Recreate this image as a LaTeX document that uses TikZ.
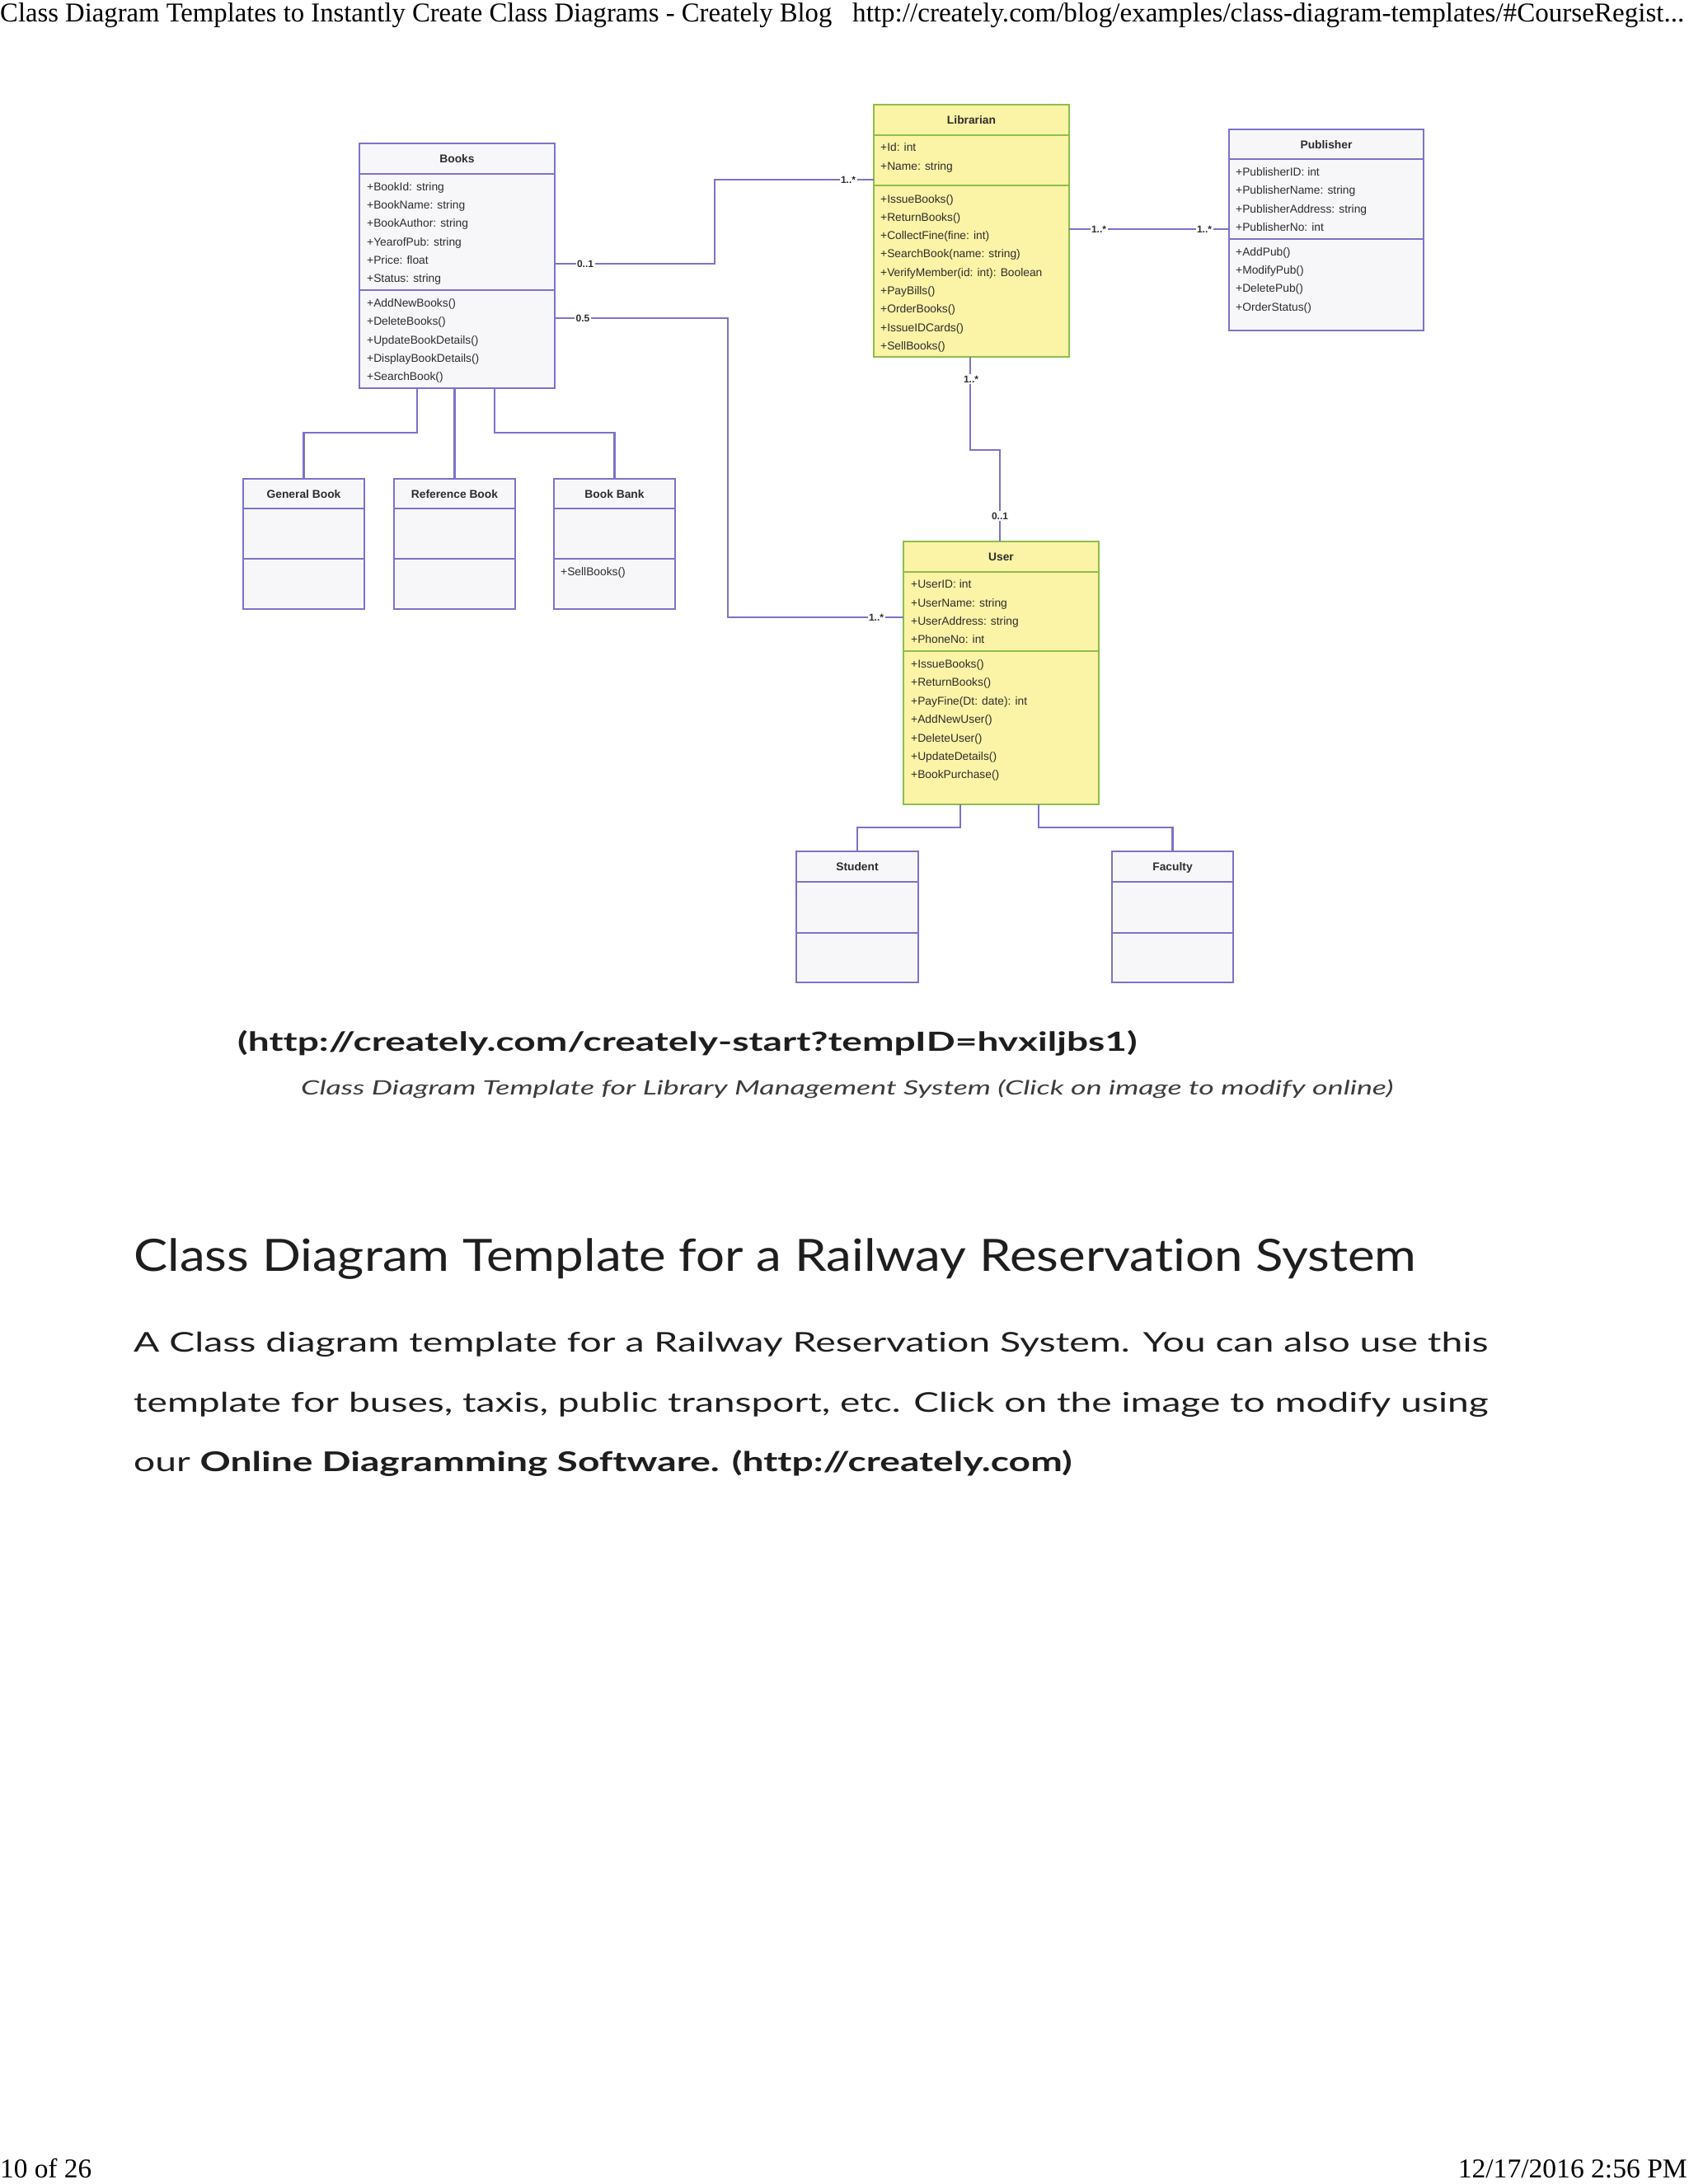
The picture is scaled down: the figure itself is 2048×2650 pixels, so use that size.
\documentclass[tikz,border=0pt]{standalone}
\usepackage{fontspec}
\usepackage{graphicx}
\setmainfont{Liberation Sans}
\newfontfamily\seriffont{Liberation Serif}
\newfontfamily\blogfont[Ligatures=NoCommon]{Lato}
\definecolor{umlpurple}{RGB}{124,115,200}
\definecolor{umlgreen}{RGB}{141,190,74}
\definecolor{umlyellow}{RGB}{251,243,166}
\definecolor{umlgray}{RGB}{247,247,250}
\definecolor{umltext}{RGB}{45,45,45}
\definecolor{blogtext}{RGB}{30,30,30}
\definecolor{captext}{RGB}{60,60,60}

\newcommand\classbox[9]{%
  \node[#2, minimum width={#5-#3}, minimum height={#6-#4}] (#1) at ({(#3+#5)/2},{(#4+#6)/2}) {};
  \draw[#2sep] (#1.west |- 0,#7) -- (#1.east |- 0,#7);
  \draw[#2sep] (#1.west |- 0,#8) -- (#1.east |- 0,#8);
  \node[ttl] (#1-title) at ({(#3+#5)/2},{(#4+#7)/2+5}) {#9};
}
\newcommand\classrows[5]{%
  \foreach \t [count=\i] in {#5} {\node[attr] (#1\i) at (#2,{#3+(\i-1)*#4+5}) {\t};}
}

\begin{document}
\begin{tikzpicture}[x=1pt,y=-1pt,
  cls/.style={draw=umlpurple, fill=umlgray, line width=2.6pt, inner sep=0pt, outer sep=0pt, rectangle},
  ycls/.style={draw=umlgreen, fill=umlyellow, line width=2.6pt, inner sep=0pt, outer sep=0pt, rectangle},
  clssep/.style={draw=umlpurple, line width=2.6pt},
  yclssep/.style={draw=umlgreen, line width=2.6pt},
  conn/.style={draw=umlpurple, line width=2.6pt},
  attr/.style={anchor=base west, inner sep=0pt, text=umltext, font=\fontsize{13.8}{14}\selectfont},
  ttl/.style={anchor=base, inner sep=0pt, text=umltext, font=\fontsize{13.8}{14}\selectfont\bfseries},
  mult/.style={fill=white, inner sep=1.5pt, text=umltext, font=\fontsize{12}{12}\selectfont\bfseries},
  hdr/.style={inner sep=0pt, text=black, font=\seriffont\fontsize{33}{36}\selectfont},
  blog/.style={anchor=base west, inner sep=0pt, text=blogtext, font=\blogfont\fontsize{33}{36}\selectfont}
]
\fill[white] (0,0) rectangle (2048,2650);
\useasboundingbox (0,0) rectangle (2048,2650);

% header and footer
\node[hdr, anchor=base west] (hleft) at (0,27) {\resizebox{1009pt}{\height}{Class Diagram Templates to Instantly Create Class Diagrams - Creately Blog}};
\node[hdr, anchor=base west] (hright) at (1034,27) {\resizebox{1009pt}{\height}{http://creately.com/blog/examples/class-diagram-templates/\#CourseRegist...}};
\node[hdr, anchor=base west] (fleft) at (0,2642) {\resizebox{111pt}{\height}{10 of 26}};
\node[hdr, anchor=base east] (fright) at (2047,2642) {\resizebox{278pt}{\height}{12/17/2016 2:56 PM}};

% class boxes
\classbox{books}{cls}{436}{174}{673}{471}{211}{352}{Books}
\classbox{librarian}{ycls}{1060}{127}{1297}{433}{164}{225}{Librarian}
\classbox{publisher}{cls}{1491}{157}{1727}{401}{193}{290}{Publisher}
\classbox{user}{ycls}{1096}{657}{1333}{976}{694}{790}{User}
\classbox{general}{cls}{295}{581}{442}{739}{617}{678}{General Book}
\classbox{reference}{cls}{478}{581}{625}{739}{617}{678}{Reference Book}
\classbox{bookbank}{cls}{672}{581}{819}{739}{617}{678}{Book Bank}
\classbox{student}{cls}{966}{1033}{1114}{1192}{1070}{1132}{Student}
\classbox{faculty}{cls}{1349}{1033}{1496}{1192}{1070}{1132}{Faculty}

% connectors
\draw[conn] (books.east |- 0,320) -- (867,320) -- (867,218) -- (librarian.west |- 0,218);
\draw[conn] (books.east |- 0,386) -- (883,386) -- (883,749) -- (user.west |- 0,749);
\draw[conn] (librarian.east |- 0,278) -- (publisher.west |- 0,278);
\draw[conn] (librarian.south -| 1177,0) -- (1177,546) -- (1213,546) -- (user.north -| 1213,0);
\draw[conn] (books.south -| 506,0) -- (506,525) -- (368.5,525) -- (general.north);
\draw[conn] (books.south -| 551.5,0) -- (reference.north);
\draw[conn] (books.south -| 600,0) -- (600,525) -- (745.5,525) -- (bookbank.north);
\draw[conn] (user.south -| 1165,0) -- (1165,1004) -- (1040,1004) -- (student.north);
\draw[conn] (user.south -| 1260,0) -- (1260,1004) -- (1422.5,1004) -- (faculty.north);

\node[mult] (m1) at (710,320) {0..1};
\node[mult] (m2) at (1029,218) {1..*};
\node[mult] (m3) at (707,386) {0.5};
\node[mult] (m4) at (1063,749) {1..*};
\node[mult] (m5) at (1333,278) {1..*};
\node[mult] (m6) at (1461,278) {1..*};
\node[mult] (m7) at (1178,460) {1..*};
\node[mult] (m8) at (1213,626) {0..1};

% class contents
\classrows{books-a}{445}{226}{22.35}{+BookId: string,+BookName: string,+BookAuthor: string,+YearofPub: string,+Price: float,+Status: string}
\classrows{books-m}{445}{367.3}{22.35}{+AddNewBooks(),+DeleteBooks(),+UpdateBookDetails(),+DisplayBookDetails(),+SearchBook()}
\classrows{lib-a}{1068}{178.3}{23.2}{+Id: int,+Name: string}
\classrows{lib-m}{1068}{241}{22.3}{+IssueBooks(),+ReturnBooks(),+CollectFine(fine: int),+SearchBook(name: string),+VerifyMember(id: int): Boolean,+PayBills(),+OrderBooks(),+IssueIDCards(),+SellBooks()}
\classrows{pub-a}{1499}{208.3}{22.5}{+PublisherID: int,+PublisherName: string,+PublisherAddress: string,+PublisherNo: int}
\classrows{pub-m}{1499}{305}{22.4}{+AddPub(),+ModifyPub(),+DeletePub(),+OrderStatus()}
\classrows{user-a}{1105}{708.6}{22.4}{+UserID: int,+UserName: string,+UserAddress: string,+PhoneNo: int}
\classrows{user-m}{1105}{805.5}{22.4}{+IssueBooks(),+ReturnBooks(),+PayFine(Dt: date): int,+AddNewUser(),+DeleteUser(),+UpdateDetails(),+BookPurchase()}
\classrows{bank-m}{680}{693}{22.4}{+SellBooks()}

% blog text
\node[blog, font=\blogfont\bfseries\fontsize{32}{36}\selectfont] (url) at (288,1275) {\resizebox{1091pt}{\height}{(http://creately.com/creately-start?tempID=hvxiljbs1)}};
\node[blog, text=captext, font=\blogfont\itshape\fontsize{24}{28}\selectfont] (caption) at (365,1328) {\resizebox{1325pt}{\height}{Class Diagram Template for Library Management System (Click on image to modify online)}};
\node[blog, font=\blogfont\fontsize{54}{60}\selectfont] (heading) at (162,1542) {\resizebox{1556pt}{\height}{Class Diagram Template for a Railway Reservation System}};
\node[blog] (para1) at (162,1640) {\resizebox{1643pt}{\height}{A Class diagram template for a Railway Reservation System. You can also use this}};
\node[blog] (para2) at (162,1713) {\resizebox{1643pt}{\height}{template for buses, taxis, public transport, etc. Click on the image to modify using}};
\node[blog] (para3) at (162,1785) {\resizebox{1138pt}{\height}{our \textbf{Online Diagramming Software. (http://creately.com)}}};
\end{tikzpicture}
\end{document}
